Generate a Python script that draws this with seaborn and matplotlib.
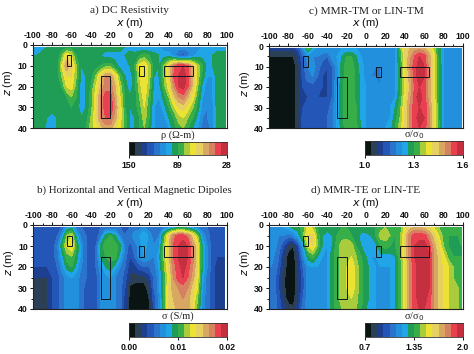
import numpy as np
import matplotlib
matplotlib.use("Agg")
import matplotlib.pyplot as plt
from matplotlib.colors import ListedColormap, BoundaryNorm
from matplotlib.patches import Rectangle
from matplotlib.ticker import MultipleLocator
import seaborn as sns

x_grid = [-98,-95,-90,-85,-80,-75,-70,-65,-60,-55,
          -50,-45,-40,-35,-30,-25,-20,-15,-10,-5,
          0,5,10,15,20,25,30,35,40,45,
          50,55,60,65,70,75,80,85,90,95,98]
z_grid = [1,5,10,15,20,25,30,35,40]

# colour-band index (0 = low end of bar, 15 = high end)
dc = [
[6,6,6,6.5,7,7,7,7,7,7, 7,7,7,7,7,7,7,7,7,6.5, 6,5.5,5.5,5.5,5.5,5.5,5.5,5,5,5, 5,5,5,5,5,5.5,5.5,6,6,6, 6],
[6.5,6.5,7,7,7,7,8,10.5,9.5,7.5, 7,7,7,7,6.5,6,6,6,6,6.5, 7,7,7.5,8,7.5,7,6.5,6,6,5, 3.5,3,4,5,6,6,6.5,6.5,7,7, 7],
[7,7,7,7,7,6.5,9.5,12.5,11,8.5, 6.5,6.8,7,7,7.5,8,8,7,6,6, 6.5,7.5,10,10.5,9,7,6.5,8.5,10.5,13, 14.5,14.5,13.5,11,9,7.5,6,6.5,7,7, 7],
[7,7,7,7,7,7,8.5,10.5,10.5,8.5, 6,6.5,7,8.5,10.5,12.5,12.5,10.5,8,6.5, 6,7,9.5,10.5,9,6.5,6.5,8.5,10.5,13.5, 14.5,15,14,11.5,9,7,5.5,5.5,7,7, 7],
[7,7,7,7,7,7,7.5,9.5,10,8, 6,6.5,7.5,9.5,11.5,13,13,11.5,9,7, 6,7,9,10.5,8.5,6,6,8,10,12.5, 14.5,15,13.5,11,8.5,6,5,5.5,7,7, 7],
[7,7,7,7,7,7,7,7.5,8.5,7.5, 6,6.5,8,10,12.5,14,14,12,9.5,7.5, 6.5,7,8.5,10,8,6,5.5,7,8.5,11, 12.5,13,11.5,10,7.5,5.5,5,5.5,7,7, 7],
[7,7,7,7,7,7,7,7,7.5,7, 6,6.5,8,10,12.5,14,14.5,12.5,10,7.5, 6.5,7,8,9.5,7.5,5.5,5,6,7.5,9, 10.5,11,10,8.5,7,5,4.5,5,7,7, 7],
[7,7,7,6.5,6,6.5,7,7,7,7, 6.5,7,8.5,10.5,12.5,13.5,13.5,12,10,8, 6.5,6.5,7.5,9,7.5,5.5,5,5,6.5,7.5, 9,9.5,8.5,7.5,6,4.5,4.5,5,7,7, 7],
[7,7,7,6,6,6.5,7,7,7,7, 7,7.5,9,10,11,12,12,10.5,9.5,8, 6.5,6.5,7.5,8.5,7,5.5,5,5,5.5,7, 8,8.5,7.5,6.5,5.5,4,4,5,7,7, 7],
]
hv = [
[3,3,3,3,3,3,3.5,5.5,6,4, 3.5,3.5,3.5,3.5,3.5,3.5,3.5,3.5,3.5,3.5, 3.5,4,4,4.5,4,4,4,4.5,5,5.5, 6,6,5.5,5,4.5,4,3.5,3,3,3, 3],
[3,3,3,3,3,3.5,5,8.5,9.5,6, 4,3.5,3,3,4,7,7.5,6.5,4.5,3.5, 4,5,5.5,6.5,5,4,4.5,7.5,10.5,13, 14,14,13,11,8.5,5,4,3,3,3, 3],
[3,3,3,3,3,4,7.5,9.5,10.5,7.5, 5,3.5,3,3.5,7,8,8,8,7,4.5, 3,4,5,6,5,4.5,5,8.5,11,13.5, 14.5,15,14.5,12.5,10.5,6.5,4.5,3,3,3, 3],
[3,3,3,3,3,4,6,8,8.5,7, 5,3.5,3,3.5,6.5,7.5,8,8,6,4, 2.5,3.5,5,5.5,5,4.5,6,8.5,11,13.5, 14.5,15,14.5,13,10.5,6.5,4.5,3,2.5,2.5, 2.5],
[2.5,2.5,2.5,2.5,3,3.5,5,7,7.5,6, 4.5,3.5,3,3.5,5,6.5,7,6,4.5,3.5, 2,2,3,3.5,3.5,4,5.5,8,10.5,13, 14,15,14,12.5,10.5,6.5,4.5,3,2,2, 2],
[1.5,1.5,1.5,1.5,2.5,3,4,5,5.5,5, 4,3.5,2.5,3,4.5,5,5.5,4.5,4,3, 1.2,1,1,1,2,3.5,5,7.5,10,12.5, 14,14.5,13.5,12,10,6,4,3,2,2, 2],
[1.5,1.5,1.5,1.5,2.5,3,4,5,5,5, 4,3,2.5,3,4.5,5.5,5,4.5,4,2.5, 0.3,0,0,0,1,3.5,5,7.5,10.5,12, 12.5,13,12.5,11,9.5,5.5,4,3,2,2, 2],
[1.5,1.5,1.5,1.5,2.5,3,4,5,5,5, 4,3,2.5,3,4.5,5,5,4.5,4,2, 0.2,0,0,0,0.5,3,4.5,7.5,10.5,11.5, 12,12.5,12,10.5,8.5,5,4,3,2,2, 2],
[1.5,1.5,1.5,1.5,2.5,3,4,5,5,5, 4,3,2.5,3,4.5,5,5,4.5,4,2, 0.2,0,0,0,0.2,3,4.5,7.5,10.5,11, 12,12.5,12,10.5,8,5,4,3,2,2, 2],
]
tm = [
[2,2,2,2,2,2,3,5,8,6, 5,5.5,5.5,5.5,5.5,5.5,5.5,5.5,5.5,5.5, 5.5,5.5,5.5,5.5,5.5,5.5,5.5,8,10.5,11.5, 12,12,11.5,11,9,7,5.5,5.5,5.5,5.5, 5.5],
[.5,.5,.5,.5,.5,.5,1.5,3.5,5,4.5, 4.5,4,3.5,5,5.5,6.5,7.5,7.5,6.5,5.5, 5.5,5.5,5.5,5.5,5.5,5.5,5.5,7.5,10.5,12, 13.5,14.5,14,12,10,7,5.5,5.5,5.5,5.5, 5.5],
[0,0,0,0,0,0,1,3,4.5,5, 4,3,2.5,3.5,5,7,8,8,7,6, 5,5,4.5,4.5,5,5,5.5,7,10,12.5, 14,15,14.5,12,10,7.5,5.5,5.5,5.5,5.5, 5.5],
[0,0,0,0,0,0,1,3,4,4.5, 3.5,2.5,2.5,3.5,5,7,8,8,7.2,6, 5,4.5,4.5,4.5,5,5,5.5,7,10,12, 14,15,14.5,12,10,7.5,5.5,5.5,5.5,5.5, 5.5],
[0,0,0,0,0,0,1,2.5,3,3, 3,2.5,2.5,3.5,5.5,7.2,8,8,7.2,6, 5.5,5,5,4.5,5,5,5.5,7,9.5,11.5, 13.5,14.5,14,12,10,7.5,5.5,5.5,5.5,5.5, 5.5],
[0,0,0,0,0,0,1,2,2.5,2.5, 2.5,2.5,2.5,3.5,5.5,7.2,8,8,7.2,6, 5.5,5.5,5.5,5.5,5.5,5,5.5,7.5,10,12, 14,15,14,12,10,7.5,5.5,5.5,5.5,5.5, 5.5],
[0,0,0,0,0,0,1,2.5,3,3, 3,3,3,4,5.5,7.2,8,8,7.5,6, 5.5,5.5,5.5,5.5,5.5,5.5,6.5,8,10.5,12.5, 14,14.5,14.5,12.5,10.5,7.5,5.5,5.5,5.5,5.5, 5.5],
[0,0,0,0,0,0,1,3,3.5,3.5, 3.5,3.5,3.5,4,5.5,7.2,8,8,7.5,6, 5.5,5.5,5.5,5.5,5.5,5.5,7,8.5,10.5,12.5, 14,15,14.5,12.5,10.5,7.5,5.5,5.5,5.5,5.5, 5.5],
[0,0,0,0,0,0,1,3,3.5,3.5, 3.5,3.5,3.5,4,5.5,7,8,8,7.8,6.5, 5.5,5.5,5.5,5.5,5.5,6,7.5,9,10.5,12.5, 14,14.5,14,12.5,10.5,8,5.5,5.5,5.5,5.5, 5.5],
]
te = [
[5,5,5,5.5,6,7,7,8,10,9, 7.5,7.5,7.5,7.5,7.5,7.5,7.5,7.5,7.5,7.5, 7.5,7.5,7.5,8,8.5,7.5,8,8,10,11, 11.5,11.5,11,10.5,9.5,8.5,8,8,8,8, 8],
[5,5,4.5,4.5,4,4.5,6,8,10.5,11, 8,6.5,5.5,6.5,7.5,8,8,7.5,7,6, 6,6.5,7.5,9,9,8.5,7.5,8,10.5,13, 14,14,14,12.5,11,9.5,8,7.5,7.5,7.5, 8],
[5,5,4,2.5,1,.5,2.5,5.5,9.5,10.5, 8.5,6.5,5.5,6.5,8,9,9.5,9,7.5,6.5, 6,6,6,7.5,8,7.5,7.5,8,10.5,13, 14.5,15,15,14,12,10.5,8.5,7.5,7.5,7.5, 7.5],
[5,4.5,3.5,1.5,0,0,1.5,4.5,7,8, 6.5,5.5,5.5,7,8,9,9.5,9.5,8.5,7.5, 6.5,5.5,5.5,6,6,6,6.5,8,10.5,13, 14.5,15,15,14.5,12.5,11,10,8,7.5,7.5, 7.5],
[4.5,4.5,3,1,0,0,1.2,3.5,5,5.5, 5.5,5.5,5.5,7,8,9,9.5,10.3,9,7.8, 7,6,5.5,5.5,5.5,5.5,6.5,8,10,12.5, 14,15,15,14.5,12.5,11,10.3,9.5,8.5,8, 8],
[4.5,4,2.5,.7,0,0,1.2,3,5,5.5, 5.5,5.5,5.5,7,8,9,9.5,10.4,9,7.8, 7,6,5.5,5.5,5.5,5.5,6.5,8,10,12.5, 14,15,15,14.5,12.5,11,10.3,9.5,8.5,8, 8],
[4.5,4,2.5,.7,0,0,1.2,3,5,5.5, 5.5,5.5,5.5,7,8,9,9.5,10.4,9,7.8, 7,6,5.5,5.5,5.5,5.5,6.5,8,10,12.5, 14,15,15,14.5,12.5,11,10.3,9.5,9,8.5, 8],
[4.5,4,3,1,0,0,1.5,3.5,5,5.5, 5.5,5.5,5.5,7,8,9,9.5,9.5,8.8,7.8, 7,6,5.5,5.5,5.5,5.5,6.5,8,10,12.5, 14,15,15,14,12.5,11,10.3,9.5,9,8.5, 8],
[4.5,4,3,2,1,.7,2,4,5,5.5, 5.5,5.5,5.5,7,7.8,8.5,9,9,8.5,7.5, 6.5,6,5.5,5.5,5.5,5.5,6.5,8,10,12.5, 14,14.5,14.5,14,12.5,11,10.3,9.5,9,8.5, 8],
]

band_colors = ["#0a1412","#2b3f55","#1c3f90","#2456b8","#2a74cc","#2290dc","#20a6e6","#1f9c55",
               "#37ae48","#a8cc3c","#ece234","#e6d060","#d8a862","#d88062","#e8404f","#c4303f"]
titles = ["a) DC Resistivity","c) MMR-TM or LIN-TM","b) Horizontal and Vertical Magnetic Dipoles","d) MMR-TE or LIN-TE"]
bar_labels = ["ρ (Ω-m)", r"σ/σ$_0$", "σ (S/m)", r"σ/σ$_0$"]
bar_ticks = [["150","89","28"],["1.0","1.3","1.6"],["0.00","0.01","0.02"],["0.7","1.35","2.0"]]
fields = [dc, tm, hv, te]
# anomaly outlines: x left, z top, width, height
targets = [(-65,5,5,5),(-30,15,10,20),(10,10,5,5),(35,10,30,5)]

W, H = 474, 354
panel_px = [(32.5,45,227,128),(269,46,463,128),(33,225,226.5,309),(269,225,463,309)]
bar_px = [(129,142,227,155),(365,141,463,155),(129,323,227,337),(365,323,463,337)]
title_shift = [0, 0, 5, 0]

sns.set_theme(style="white")
plt.rcParams["font.family"] = ["Liberation Sans", "DejaVu Sans"]
plt.rcParams["axes.unicode_minus"] = False
SANS = dict(fontweight="bold", fontsize=6.3, color="#111111")

fig = plt.figure(figsize=(W/100, H/100), dpi=100, facecolor="white")
def px_axes(b):
    l, t, r, bo = b
    return fig.add_axes([l/W, 1-bo/H, (r-l)/W, (bo-t)/H])

cmap = ListedColormap(band_colors)
levels = np.arange(-0.5, 16, 1)
norm = BoundaryNorm(levels, cmap.N)

for i in range(4):
    ax = px_axes(panel_px[i])
    ax.contourf(x_grid, z_grid, np.array(fields[i]), levels=levels, cmap=cmap, norm=norm)
    for (rx, rz, rw, rh) in targets:
        ax.add_patch(Rectangle((rx, rz), rw, rh, fill=False, ec="#101820", lw=0.7))
    ax.set_xlim(-100, 100); ax.set_ylim(40, 0)
    ax.xaxis.tick_top()
    ax.xaxis.set_major_locator(MultipleLocator(20)); ax.xaxis.set_minor_locator(MultipleLocator(10))
    ax.yaxis.set_major_locator(MultipleLocator(10)); ax.yaxis.set_minor_locator(MultipleLocator(5))
    ax.tick_params(which="both", direction="out", top=True, left=True, bottom=False, right=False,
                   length=2.2, width=0.7, color="#111111", pad=1.5)
    ax.tick_params(which="minor", length=1.6)
    for t in ax.get_xticklabels() + ax.get_yticklabels():
        t.set_fontweight("bold"); t.set_fontsize(6.3); t.set_color("#111111")
    for s in ax.spines.values():
        s.set_color("#222222"); s.set_linewidth(0.8)
    l, t_, r, b = panel_px[i]
    cx = (l + r) / 2
    fig.text((cx + title_shift[i])/W, 1-(t_-35)/H, titles[i], family="Liberation Serif",
             fontsize=8.2 if i != 2 else 7.8, ha="center", va="center", color="#222222")
    fig.text(cx/W, 1-(t_-22.5)/H, r"$\mathit{x}$ (m)", fontsize=8, ha="center", va="center",
             color="#111111", math_fontfamily="dejavusans")
    fig.text((l-24.5)/W, 1-(t_+38)/H, r"$\mathit{z}$ (m)", fontsize=8, rotation=90, ha="center",
             va="center", color="#111111", math_fontfamily="dejavusans")

    cax = px_axes(bar_px[i])
    sns.heatmap(np.arange(16).reshape(1, 16), ax=cax, cmap=cmap, norm=norm, cbar=False,
                xticklabels=False, yticklabels=False)
    cax.set_xticks([0, 8, 16]); cax.set_xticklabels(bar_ticks[i], **SANS)
    cax.set_yticks([])
    cax.tick_params(axis="x", bottom=True, length=2, width=0.7, color="#111111", pad=2)
    for s in cax.spines.values():
        s.set_visible(True); s.set_color("#333333"); s.set_linewidth(0.6)
    bl, bt, br, bb = bar_px[i]
    fig.text(((bl+br)/2)/W, 1-(bt-6.5)/H, bar_labels[i], family=["Liberation Serif","DejaVu Sans"],
             fontsize=7.5, ha="center", va="center", color="#222222")

fig.savefig("out.png", dpi=100, facecolor="white")
